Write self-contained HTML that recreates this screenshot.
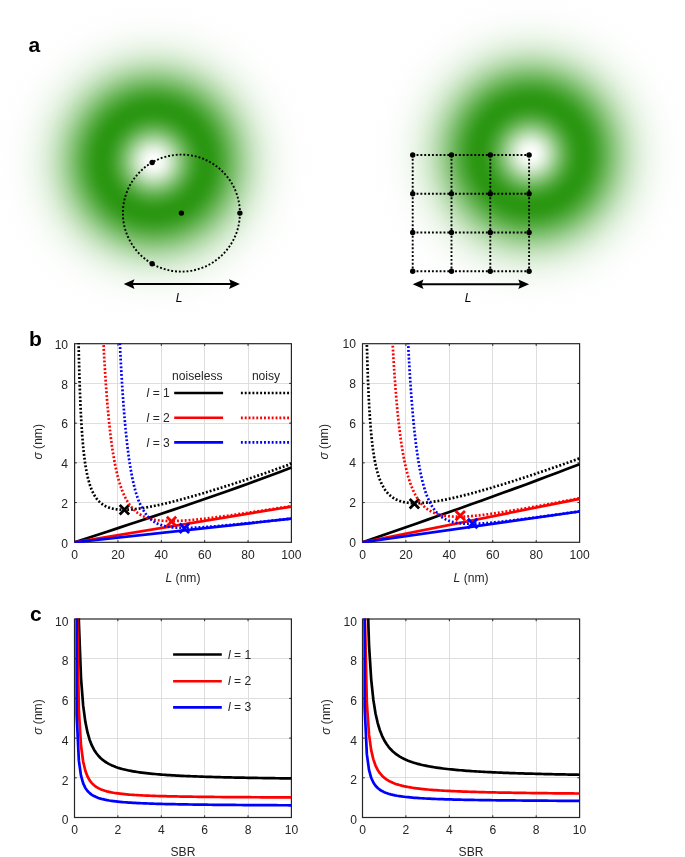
<!DOCTYPE html>
<html lang="en"><head><meta charset="utf-8"><title>Figure</title>
<style>html,body{margin:0;padding:0;background:#fff}svg{display:block}</style>
</head><body>
<svg width="685" height="857" viewBox="0 0 685 857" font-family='"Liberation Sans", Arial, Helvetica, sans-serif' font-size="12.1" fill="#000">
<defs><radialGradient id="dn" gradientUnits="userSpaceOnUse" cx="0" cy="0" r="180.0"><stop offset="0.0000" stop-color="rgb(42,150,17)" stop-opacity="0.000"/><stop offset="0.0139" stop-color="rgb(42,150,17)" stop-opacity="0.006"/><stop offset="0.0278" stop-color="rgb(42,150,17)" stop-opacity="0.025"/><stop offset="0.0417" stop-color="rgb(42,150,17)" stop-opacity="0.055"/><stop offset="0.0556" stop-color="rgb(42,150,17)" stop-opacity="0.096"/><stop offset="0.0694" stop-color="rgb(42,150,17)" stop-opacity="0.146"/><stop offset="0.0833" stop-color="rgb(42,150,17)" stop-opacity="0.206"/><stop offset="0.0972" stop-color="rgb(42,150,17)" stop-opacity="0.272"/><stop offset="0.1111" stop-color="rgb(42,150,17)" stop-opacity="0.343"/><stop offset="0.1250" stop-color="rgb(42,150,17)" stop-opacity="0.417"/><stop offset="0.1389" stop-color="rgb(42,150,17)" stop-opacity="0.494"/><stop offset="0.1528" stop-color="rgb(42,150,17)" stop-opacity="0.569"/><stop offset="0.1667" stop-color="rgb(42,150,17)" stop-opacity="0.643"/><stop offset="0.1806" stop-color="rgb(42,150,17)" stop-opacity="0.713"/><stop offset="0.1944" stop-color="rgb(42,150,17)" stop-opacity="0.777"/><stop offset="0.2083" stop-color="rgb(42,150,17)" stop-opacity="0.835"/><stop offset="0.2222" stop-color="rgb(42,150,17)" stop-opacity="0.885"/><stop offset="0.2361" stop-color="rgb(42,150,17)" stop-opacity="0.927"/><stop offset="0.2500" stop-color="rgb(42,150,17)" stop-opacity="0.959"/><stop offset="0.2639" stop-color="rgb(42,150,17)" stop-opacity="0.982"/><stop offset="0.2778" stop-color="rgb(42,150,17)" stop-opacity="0.996"/><stop offset="0.2917" stop-color="rgb(42,150,17)" stop-opacity="1.000"/><stop offset="0.3056" stop-color="rgb(42,150,17)" stop-opacity="0.995"/><stop offset="0.3194" stop-color="rgb(42,150,17)" stop-opacity="0.981"/><stop offset="0.3333" stop-color="rgb(42,150,17)" stop-opacity="0.960"/><stop offset="0.3472" stop-color="rgb(42,150,17)" stop-opacity="0.932"/><stop offset="0.3611" stop-color="rgb(42,150,17)" stop-opacity="0.897"/><stop offset="0.3750" stop-color="rgb(42,150,17)" stop-opacity="0.857"/><stop offset="0.3889" stop-color="rgb(42,150,17)" stop-opacity="0.813"/><stop offset="0.4028" stop-color="rgb(42,150,17)" stop-opacity="0.766"/><stop offset="0.4167" stop-color="rgb(42,150,17)" stop-opacity="0.716"/><stop offset="0.4306" stop-color="rgb(42,150,17)" stop-opacity="0.666"/><stop offset="0.4444" stop-color="rgb(42,150,17)" stop-opacity="0.614"/><stop offset="0.4583" stop-color="rgb(42,150,17)" stop-opacity="0.563"/><stop offset="0.4722" stop-color="rgb(42,150,17)" stop-opacity="0.513"/><stop offset="0.4861" stop-color="rgb(42,150,17)" stop-opacity="0.465"/><stop offset="0.5000" stop-color="rgb(42,150,17)" stop-opacity="0.418"/><stop offset="0.5139" stop-color="rgb(42,150,17)" stop-opacity="0.374"/><stop offset="0.5278" stop-color="rgb(42,150,17)" stop-opacity="0.332"/><stop offset="0.5417" stop-color="rgb(42,150,17)" stop-opacity="0.294"/><stop offset="0.5556" stop-color="rgb(42,150,17)" stop-opacity="0.258"/><stop offset="0.5694" stop-color="rgb(42,150,17)" stop-opacity="0.225"/><stop offset="0.5833" stop-color="rgb(42,150,17)" stop-opacity="0.196"/><stop offset="0.5972" stop-color="rgb(42,150,17)" stop-opacity="0.169"/><stop offset="0.6111" stop-color="rgb(42,150,17)" stop-opacity="0.145"/><stop offset="0.6250" stop-color="rgb(42,150,17)" stop-opacity="0.124"/><stop offset="0.6389" stop-color="rgb(42,150,17)" stop-opacity="0.105"/><stop offset="0.6528" stop-color="rgb(42,150,17)" stop-opacity="0.089"/><stop offset="0.6667" stop-color="rgb(42,150,17)" stop-opacity="0.075"/><stop offset="0.6806" stop-color="rgb(42,150,17)" stop-opacity="0.062"/><stop offset="0.6944" stop-color="rgb(42,150,17)" stop-opacity="0.052"/><stop offset="0.7083" stop-color="rgb(42,150,17)" stop-opacity="0.043"/><stop offset="0.7222" stop-color="rgb(42,150,17)" stop-opacity="0.035"/><stop offset="0.7361" stop-color="rgb(42,150,17)" stop-opacity="0.029"/><stop offset="0.7500" stop-color="rgb(42,150,17)" stop-opacity="0.023"/><stop offset="0.7639" stop-color="rgb(42,150,17)" stop-opacity="0.019"/><stop offset="0.7778" stop-color="rgb(42,150,17)" stop-opacity="0.015"/><stop offset="0.7917" stop-color="rgb(42,150,17)" stop-opacity="0.012"/><stop offset="0.8056" stop-color="rgb(42,150,17)" stop-opacity="0.010"/><stop offset="0.8194" stop-color="rgb(42,150,17)" stop-opacity="0.008"/><stop offset="0.8333" stop-color="rgb(42,150,17)" stop-opacity="0.006"/><stop offset="0.8472" stop-color="rgb(42,150,17)" stop-opacity="0.005"/><stop offset="0.8611" stop-color="rgb(42,150,17)" stop-opacity="0.004"/><stop offset="0.8750" stop-color="rgb(42,150,17)" stop-opacity="0.003"/><stop offset="0.8889" stop-color="rgb(42,150,17)" stop-opacity="0.002"/><stop offset="0.9028" stop-color="rgb(42,150,17)" stop-opacity="0.002"/><stop offset="0.9167" stop-color="rgb(42,150,17)" stop-opacity="0.001"/><stop offset="0.9306" stop-color="rgb(42,150,17)" stop-opacity="0.001"/><stop offset="0.9444" stop-color="rgb(42,150,17)" stop-opacity="0.001"/><stop offset="0.9583" stop-color="rgb(42,150,17)" stop-opacity="0.001"/><stop offset="0.9722" stop-color="rgb(42,150,17)" stop-opacity="0.000"/><stop offset="0.9861" stop-color="rgb(42,150,17)" stop-opacity="0.000"/><stop offset="1.0000" stop-color="rgb(42,150,17)" stop-opacity="0.000"/></radialGradient></defs>
<rect width="685" height="857" fill="#fff"/>
<circle cx="0" cy="0" r="180.0" fill="url(#dn)" transform="translate(153.9,161.3)"/>
<circle cx="0" cy="0" r="180.0" fill="url(#dn)" transform="translate(530.6,154.0)"/>
<circle cx="181.4" cy="213.1" r="58.5" stroke="#000" stroke-width="1.9" stroke-dasharray="1.9 1.95" fill="none"/>
<circle cx="239.90" cy="213.10" r="2.7"/>
<circle cx="152.15" cy="162.44" r="2.7"/>
<circle cx="152.15" cy="263.76" r="2.7"/>
<circle cx="181.40" cy="213.10" r="2.7"/>
<line x1="412.7" y1="154.95" x2="412.7" y2="271.2" stroke="#000" stroke-width="1.9" stroke-dasharray="1.9 1.95" fill="none"/>
<line x1="451.5" y1="154.95" x2="451.5" y2="271.2" stroke="#000" stroke-width="1.9" stroke-dasharray="1.9 1.95" fill="none"/>
<line x1="490.3" y1="154.95" x2="490.3" y2="271.2" stroke="#000" stroke-width="1.9" stroke-dasharray="1.9 1.95" fill="none"/>
<line x1="529.1" y1="154.95" x2="529.1" y2="271.2" stroke="#000" stroke-width="1.9" stroke-dasharray="1.9 1.95" fill="none"/>
<line x1="412.7" y1="154.95" x2="529.1" y2="154.95" stroke="#000" stroke-width="1.9" stroke-dasharray="1.9 1.95" fill="none"/>
<line x1="412.7" y1="193.75" x2="529.1" y2="193.75" stroke="#000" stroke-width="1.9" stroke-dasharray="1.9 1.95" fill="none"/>
<line x1="412.7" y1="232.5" x2="529.1" y2="232.5" stroke="#000" stroke-width="1.9" stroke-dasharray="1.9 1.95" fill="none"/>
<line x1="412.7" y1="271.2" x2="529.1" y2="271.2" stroke="#000" stroke-width="1.9" stroke-dasharray="1.9 1.95" fill="none"/>
<circle cx="412.7" cy="154.95" r="2.7"/>
<circle cx="412.7" cy="193.75" r="2.7"/>
<circle cx="412.7" cy="232.5" r="2.7"/>
<circle cx="412.7" cy="271.2" r="2.7"/>
<circle cx="451.5" cy="154.95" r="2.7"/>
<circle cx="451.5" cy="193.75" r="2.7"/>
<circle cx="451.5" cy="232.5" r="2.7"/>
<circle cx="451.5" cy="271.2" r="2.7"/>
<circle cx="490.3" cy="154.95" r="2.7"/>
<circle cx="490.3" cy="193.75" r="2.7"/>
<circle cx="490.3" cy="232.5" r="2.7"/>
<circle cx="490.3" cy="271.2" r="2.7"/>
<circle cx="529.1" cy="154.95" r="2.7"/>
<circle cx="529.1" cy="193.75" r="2.7"/>
<circle cx="529.1" cy="232.5" r="2.7"/>
<circle cx="529.1" cy="271.2" r="2.7"/>
<line x1="132.20" y1="284.1" x2="231.40" y2="284.1" stroke="#000" stroke-width="2.0"/>
<path d="M123.70,284.1 L134.50,279.3 L132.70,284.1 L134.50,288.90000000000003 Z"/>
<path d="M239.90,284.1 L229.10,279.3 L230.90,284.1 L229.10,288.90000000000003 Z"/>
<line x1="421.20" y1="284.2" x2="520.60" y2="284.2" stroke="#000" stroke-width="2.0"/>
<path d="M412.70,284.2 L423.50,279.4 L421.70,284.2 L423.50,289.0 Z"/>
<path d="M529.10,284.2 L518.30,279.4 L520.10,284.2 L518.30,289.0 Z"/>
<text x="179.0" y="301.6" text-anchor="middle" font-style="italic">L</text>
<text x="468.2" y="301.8" text-anchor="middle" font-style="italic">L</text>
<text x="28.5" y="52" font-size="21" font-weight="bold">a</text>
<text x="28.9" y="346.2" font-size="21" font-weight="bold">b</text>
<text x="29.9" y="621.2" font-size="21" font-weight="bold">c</text>
<clipPath id="cp1"><rect x="74.0" y="343.09999999999997" width="217.99999999999997" height="199.79999999999995"/></clipPath>
<line x1="117.5" y1="343.7" x2="117.5" y2="542.3" stroke="#dedede" stroke-width="1"/>
<line x1="161.5" y1="343.7" x2="161.5" y2="542.3" stroke="#dedede" stroke-width="1"/>
<line x1="204.5" y1="343.7" x2="204.5" y2="542.3" stroke="#dedede" stroke-width="1"/>
<line x1="248.5" y1="343.7" x2="248.5" y2="542.3" stroke="#dedede" stroke-width="1"/>
<line x1="74.6" y1="502.5" x2="291.4" y2="502.5" stroke="#dedede" stroke-width="1"/>
<line x1="74.6" y1="462.5" x2="291.4" y2="462.5" stroke="#dedede" stroke-width="1"/>
<line x1="74.6" y1="423.5" x2="291.4" y2="423.5" stroke="#dedede" stroke-width="1"/>
<line x1="74.6" y1="383.5" x2="291.4" y2="383.5" stroke="#dedede" stroke-width="1"/>
<rect x="74.6" y="343.7" width="216.80" height="198.60" fill="none" stroke="#262626" stroke-width="1.2"/>
<line x1="117.96" y1="542.3" x2="117.96" y2="540.0999999999999" stroke="#262626" stroke-width="1"/>
<line x1="117.96" y1="343.7" x2="117.96" y2="345.9" stroke="#262626" stroke-width="1"/>
<line x1="161.32" y1="542.3" x2="161.32" y2="540.0999999999999" stroke="#262626" stroke-width="1"/>
<line x1="161.32" y1="343.7" x2="161.32" y2="345.9" stroke="#262626" stroke-width="1"/>
<line x1="204.68" y1="542.3" x2="204.68" y2="540.0999999999999" stroke="#262626" stroke-width="1"/>
<line x1="204.68" y1="343.7" x2="204.68" y2="345.9" stroke="#262626" stroke-width="1"/>
<line x1="248.04" y1="542.3" x2="248.04" y2="540.0999999999999" stroke="#262626" stroke-width="1"/>
<line x1="248.04" y1="343.7" x2="248.04" y2="345.9" stroke="#262626" stroke-width="1"/>
<line x1="74.6" y1="502.58" x2="76.8" y2="502.58" stroke="#262626" stroke-width="1"/>
<line x1="291.4" y1="502.58" x2="289.2" y2="502.58" stroke="#262626" stroke-width="1"/>
<line x1="74.6" y1="462.86" x2="76.8" y2="462.86" stroke="#262626" stroke-width="1"/>
<line x1="291.4" y1="462.86" x2="289.2" y2="462.86" stroke="#262626" stroke-width="1"/>
<line x1="74.6" y1="423.14" x2="76.8" y2="423.14" stroke="#262626" stroke-width="1"/>
<line x1="291.4" y1="423.14" x2="289.2" y2="423.14" stroke="#262626" stroke-width="1"/>
<line x1="74.6" y1="383.42" x2="76.8" y2="383.42" stroke="#262626" stroke-width="1"/>
<line x1="291.4" y1="383.42" x2="289.2" y2="383.42" stroke="#262626" stroke-width="1"/>
<g clip-path="url(#cp1)">
<path d="M74.60,542.30 L85.44,538.76 L96.28,535.23 L107.12,531.68 L117.96,528.13 L128.80,524.56 L139.64,520.99 L150.48,517.39 L161.32,513.77 L172.16,510.13 L183.00,506.46 L193.84,502.77 L204.68,499.04 L215.52,495.27 L226.36,491.46 L237.20,487.61 L248.04,483.71 L258.88,479.76 L269.72,475.75 L280.56,471.69 L291.40,467.56" fill="none" stroke="#000" stroke-width="2.7" stroke-linejoin="round" />
<path d="M77.68,284.70 L77.94,305.10 L78.21,322.45 L78.48,337.40 L78.75,350.40 L79.02,361.82 L79.29,371.92 L79.56,380.92 L79.83,388.98 L80.10,396.26 L80.37,402.84 L80.64,408.84 L80.91,414.31 L81.18,419.34 L81.45,423.96 L81.72,428.23 L81.99,432.18 L82.26,435.85 L82.52,439.26 L82.79,442.45 L83.06,445.42 L83.33,448.21 L83.60,450.83 L83.87,453.29 L84.14,455.61 L84.41,457.80 L84.68,459.86 L84.95,461.81 L85.22,463.67 L85.49,465.42 L85.76,467.09 L86.03,468.67 L86.30,470.18 L86.57,471.61 L86.84,472.98 L87.10,474.29 L87.37,475.54 L87.64,476.73 L87.91,477.87 L88.18,478.97 L88.45,480.01 L88.72,481.02 L88.99,481.98 L89.26,482.91 L89.53,483.79 L89.80,484.65 L90.07,485.47 L90.34,486.26 L90.61,487.02 L90.88,487.75 L91.15,488.46 L91.42,489.14 L91.68,489.80 L91.95,490.43 L92.22,491.04 L92.49,491.63 L92.76,492.21 L93.03,492.76 L93.30,493.29 L93.57,493.81 L93.84,494.31 L94.11,494.79 L94.38,495.26 L94.65,495.71 L94.92,496.15 L95.19,496.57 L95.46,496.98 L95.73,497.38 L96.00,497.77 L96.26,498.14 L96.53,498.50 L96.80,498.86 L97.07,499.20 L97.34,499.53 L97.61,499.85 L97.88,500.17 L98.15,500.47 L98.42,500.76 L98.69,501.05 L98.96,501.33 L99.23,501.60 L99.50,501.86 L99.77,502.11 L100.04,502.36 L100.31,502.60 L100.58,502.84 L100.84,503.06 L101.11,503.28 L101.38,503.50 L101.65,503.71 L101.92,503.91 L102.19,504.11 L102.46,504.30 L102.73,504.48 L103.00,504.66 L103.27,504.84 L103.54,505.01 L103.81,505.18 L104.08,505.34 L104.35,505.50 L104.62,505.65 L104.89,505.80 L105.16,505.94 L105.42,506.08 L105.69,506.22 L105.96,506.35 L106.23,506.48 L106.50,506.61 L106.77,506.73 L107.04,506.85 L107.31,506.96 L107.58,507.07 L107.85,507.18 L108.12,507.28 L108.39,507.39 L108.66,507.49 L108.93,507.58 L109.20,507.67 L109.47,507.77 L109.74,507.85 L110.00,507.94 L110.27,508.02 L110.54,508.10 L110.81,508.18 L111.08,508.25 L111.35,508.32 L111.62,508.39 L111.89,508.46 L112.16,508.53 L112.43,508.59 L112.70,508.65 L112.97,508.71 L113.24,508.77 L113.51,508.82 L113.78,508.88 L114.05,508.93 L114.32,508.98 L114.58,509.03 L114.85,509.07 L115.12,509.12 L115.39,509.16 L115.66,509.20 L115.93,509.24 L116.20,509.27 L116.47,509.31 L116.74,509.34 L117.01,509.38 L117.28,509.41 L117.55,509.44 L117.82,509.46 L118.09,509.49 L118.36,509.51 L118.63,509.54 L118.90,509.56 L119.16,509.58 L119.43,509.60 L119.70,509.62 L119.97,509.64 L120.24,509.65 L120.51,509.67 L120.78,509.68 L121.05,509.69 L121.32,509.70 L121.59,509.71 L121.86,509.72 L122.13,509.73 L122.40,509.74 L122.67,509.74 L122.94,509.75 L123.21,509.75 L123.48,509.75 L123.74,509.75 L124.01,509.75 L124.28,509.75 L124.55,509.75 L124.82,509.75 L125.09,509.75 L125.36,509.74 L125.63,509.74 L125.90,509.73 L126.17,509.72 L126.44,509.72 L126.71,509.71 L126.98,509.70 L127.25,509.69 L127.52,509.68 L127.79,509.66 L128.06,509.65 L128.32,509.64 L128.59,509.62 L128.86,509.61 L129.13,509.59 L129.40,509.58 L129.67,509.56 L129.94,509.54 L130.21,509.52 L130.48,509.50 L130.75,509.48 L131.02,509.46 L131.29,509.44 L131.56,509.42 L131.83,509.40 L132.10,509.38 L132.37,509.35 L132.64,509.33 L132.90,509.30 L133.17,509.28 L133.44,509.25 L133.71,509.22 L133.98,509.20 L134.25,509.17 L134.52,509.14 L134.79,509.11 L135.06,509.08 L135.33,509.05 L135.60,509.02 L135.87,508.99 L136.14,508.96 L136.41,508.93 L136.68,508.89 L136.95,508.86 L137.22,508.83 L137.48,508.79 L137.75,508.76 L138.02,508.72 L138.29,508.69 L138.56,508.65 L138.83,508.62 L139.10,508.58 L139.37,508.54 L139.64,508.50 L142.21,508.12 L144.78,507.71 L147.36,507.26 L149.93,506.78 L152.50,506.28 L155.07,505.75 L157.65,505.20 L160.22,504.64 L162.79,504.05 L165.36,503.45 L167.93,502.83 L170.51,502.19 L173.08,501.55 L175.65,500.89 L178.22,500.22 L180.80,499.53 L183.37,498.84 L185.94,498.14 L188.51,497.42 L191.08,496.70 L193.66,495.97 L196.23,495.24 L198.80,494.49 L201.37,493.74 L203.95,492.97 L206.52,492.21 L209.09,491.43 L211.66,490.65 L214.23,489.86 L216.81,489.07 L219.38,488.27 L221.95,487.46 L224.52,486.65 L227.09,485.84 L229.67,485.01 L232.24,484.19 L234.81,483.35 L237.38,482.51 L239.96,481.67 L242.53,480.82 L245.10,479.97 L247.67,479.11 L250.24,478.25 L252.82,477.38 L255.39,476.50 L257.96,475.63 L260.53,474.74 L263.11,473.86 L265.68,472.96 L268.25,472.07 L270.82,471.16 L273.39,470.26 L275.97,469.34 L278.54,468.43 L281.11,467.50 L283.68,466.58 L286.26,465.65 L288.83,464.71 L291.40,463.77" fill="none" stroke="#000" stroke-width="2.7" stroke-linejoin="round" stroke-dasharray="1.9 1.95"/>
<path d="M119.70,505.00 L129.10,514.40 M119.70,514.40 L129.10,505.00" stroke="#000" stroke-width="2.8" fill="none"/>
<path d="M74.60,542.30 L291.40,506.55" fill="none" stroke="#ff0000" stroke-width="2.7" stroke-linejoin="round" />
<path d="M101.11,287.40 L101.38,294.79 L101.65,301.89 L101.92,308.70 L102.19,315.26 L102.46,321.56 L102.73,327.62 L103.00,333.46 L103.27,339.08 L103.54,344.49 L103.81,349.70 L104.08,354.72 L104.35,359.56 L104.62,364.23 L104.89,368.73 L105.16,373.07 L105.42,377.27 L105.69,381.32 L105.96,385.23 L106.23,389.00 L106.50,392.65 L106.77,396.18 L107.04,399.59 L107.31,402.89 L107.58,406.08 L107.85,409.16 L108.12,412.15 L108.39,415.04 L108.66,417.84 L108.93,420.56 L109.20,423.18 L109.47,425.73 L109.74,428.20 L110.00,430.59 L110.27,432.91 L110.54,435.16 L110.81,437.34 L111.08,439.46 L111.35,441.51 L111.62,443.51 L111.89,445.44 L112.16,447.32 L112.43,449.15 L112.70,450.92 L112.97,452.64 L113.24,454.32 L113.51,455.95 L113.78,457.53 L114.05,459.07 L114.32,460.56 L114.58,462.02 L114.85,463.43 L115.12,464.81 L115.39,466.15 L115.66,467.45 L115.93,468.72 L116.20,469.95 L116.47,471.16 L116.74,472.33 L117.01,473.47 L117.28,474.58 L117.55,475.66 L117.82,476.72 L118.09,477.74 L118.36,478.75 L118.63,479.72 L118.90,480.67 L119.16,481.60 L119.43,482.51 L119.70,483.39 L119.97,484.25 L120.24,485.09 L120.51,485.91 L120.78,486.71 L121.05,487.49 L121.32,488.25 L121.59,488.99 L121.86,489.72 L122.13,490.42 L122.40,491.11 L122.67,491.79 L122.94,492.45 L123.21,493.09 L123.48,493.72 L123.74,494.33 L124.01,494.93 L124.28,495.52 L124.55,496.09 L124.82,496.65 L125.09,497.20 L125.36,497.73 L125.63,498.25 L125.90,498.76 L126.17,499.26 L126.44,499.75 L126.71,500.22 L126.98,500.69 L127.25,501.15 L127.52,501.59 L127.79,502.03 L128.06,502.45 L128.32,502.87 L128.59,503.28 L128.86,503.68 L129.13,504.07 L129.40,504.45 L129.67,504.82 L129.94,505.19 L130.21,505.54 L130.48,505.89 L130.75,506.24 L131.02,506.57 L131.29,506.90 L131.56,507.22 L131.83,507.53 L132.10,507.84 L132.37,508.14 L132.64,508.44 L132.90,508.73 L133.17,509.01 L133.44,509.28 L133.71,509.56 L133.98,509.82 L134.25,510.08 L134.52,510.33 L134.79,510.58 L135.06,510.83 L135.33,511.06 L135.60,511.30 L135.87,511.53 L136.14,511.75 L136.41,511.97 L136.68,512.18 L136.95,512.40 L137.22,512.60 L137.48,512.80 L137.75,513.00 L138.02,513.19 L138.29,513.38 L138.56,513.57 L138.83,513.75 L139.10,513.93 L139.37,514.10 L139.64,514.27 L142.21,515.74 L144.78,516.94 L147.36,517.91 L149.93,518.71 L152.50,519.35 L155.07,519.86 L157.65,520.25 L160.22,520.55 L162.79,520.77 L165.36,520.92 L167.93,521.01 L170.51,521.05 L173.08,521.03 L175.65,520.98 L178.22,520.89 L180.80,520.77 L183.37,520.63 L185.94,520.45 L188.51,520.26 L191.08,520.04 L193.66,519.81 L196.23,519.56 L198.80,519.30 L201.37,519.03 L203.95,518.74 L206.52,518.44 L209.09,518.14 L211.66,517.82 L214.23,517.50 L216.81,517.17 L219.38,516.83 L221.95,516.49 L224.52,516.14 L227.09,515.79 L229.67,515.43 L232.24,515.07 L234.81,514.70 L237.38,514.33 L239.96,513.96 L242.53,513.58 L245.10,513.21 L247.67,512.82 L250.24,512.44 L252.82,512.05 L255.39,511.67 L257.96,511.28 L260.53,510.88 L263.11,510.49 L265.68,510.10 L268.25,509.70 L270.82,509.30 L273.39,508.90 L275.97,508.50 L278.54,508.10 L281.11,507.69 L283.68,507.29 L286.26,506.89 L288.83,506.48 L291.40,506.07" fill="none" stroke="#ff0000" stroke-width="2.7" stroke-linejoin="round" stroke-dasharray="1.9 1.95"/>
<path d="M166.80,516.80 L176.20,526.20 M166.80,526.20 L176.20,516.80" stroke="#ff0000" stroke-width="2.8" fill="none"/>
<path d="M74.60,542.30 L291.40,518.67" fill="none" stroke="#0000ff" stroke-width="2.7" stroke-linejoin="round" />
<path d="M117.55,285.57 L117.82,293.24 L118.09,300.64 L118.36,307.76 L118.63,314.63 L118.90,321.24 L119.16,327.63 L119.43,333.78 L119.70,339.72 L119.97,345.45 L120.24,350.97 L120.51,356.31 L120.78,361.46 L121.05,366.44 L121.32,371.24 L121.59,375.88 L121.86,380.36 L122.13,384.70 L122.40,388.88 L122.67,392.93 L122.94,396.85 L123.21,400.63 L123.48,404.29 L123.74,407.84 L124.01,411.26 L124.28,414.58 L124.55,417.79 L124.82,420.90 L125.09,423.91 L125.36,426.82 L125.63,429.64 L125.90,432.37 L126.17,435.02 L126.44,437.59 L126.71,440.08 L126.98,442.49 L127.25,444.82 L127.52,447.09 L127.79,449.29 L128.06,451.42 L128.32,453.48 L128.59,455.49 L128.86,457.43 L129.13,459.32 L129.40,461.15 L129.67,462.93 L129.94,464.66 L130.21,466.34 L130.48,467.96 L130.75,469.54 L131.02,471.08 L131.29,472.57 L131.56,474.02 L131.83,475.43 L132.10,476.79 L132.37,478.12 L132.64,479.42 L132.90,480.67 L133.17,481.89 L133.44,483.08 L133.71,484.23 L133.98,485.36 L134.25,486.45 L134.52,487.51 L134.79,488.54 L135.06,489.55 L135.33,490.53 L135.60,491.48 L135.87,492.41 L136.14,493.31 L136.41,494.19 L136.68,495.04 L136.95,495.87 L137.22,496.68 L137.48,497.47 L137.75,498.24 L138.02,498.99 L138.29,499.71 L138.56,500.42 L138.83,501.12 L139.10,501.79 L139.37,502.45 L139.64,503.08 L142.21,508.43 L144.78,512.63 L147.36,515.95 L149.93,518.59 L152.50,520.69 L155.07,522.36 L157.65,523.70 L160.22,524.76 L162.79,525.60 L165.36,526.26 L167.93,526.78 L170.51,527.17 L173.08,527.47 L175.65,527.68 L178.22,527.82 L180.80,527.91 L183.37,527.94 L185.94,527.93 L188.51,527.89 L191.08,527.82 L193.66,527.72 L196.23,527.60 L198.80,527.47 L201.37,527.31 L203.95,527.14 L206.52,526.96 L209.09,526.77 L211.66,526.56 L214.23,526.35 L216.81,526.14 L219.38,525.91 L221.95,525.68 L224.52,525.45 L227.09,525.21 L229.67,524.97 L232.24,524.72 L234.81,524.47 L237.38,524.22 L239.96,523.96 L242.53,523.70 L245.10,523.45 L247.67,523.18 L250.24,522.92 L252.82,522.66 L255.39,522.39 L257.96,522.12 L260.53,521.86 L263.11,521.59 L265.68,521.32 L268.25,521.05 L270.82,520.78 L273.39,520.50 L275.97,520.23 L278.54,519.96 L281.11,519.68 L283.68,519.41 L286.26,519.14 L288.83,518.86 L291.40,518.59" fill="none" stroke="#0000ff" stroke-width="2.7" stroke-linejoin="round" stroke-dasharray="1.9 1.95"/>
<path d="M179.70,523.50 L189.10,532.90 M179.70,532.90 L189.10,523.50" stroke="#0000ff" stroke-width="2.8" fill="none"/>
</g>
<text x="74.60" y="558.8" font-size="12.1" text-anchor="middle" fill="#262626">0</text>
<text x="117.96" y="558.8" font-size="12.1" text-anchor="middle" fill="#262626">20</text>
<text x="161.32" y="558.8" font-size="12.1" text-anchor="middle" fill="#262626">40</text>
<text x="204.68" y="558.8" font-size="12.1" text-anchor="middle" fill="#262626">60</text>
<text x="248.04" y="558.8" font-size="12.1" text-anchor="middle" fill="#262626">80</text>
<text x="291.40" y="558.8" font-size="12.1" text-anchor="middle" fill="#262626">100</text>
<text x="68.10" y="547.50" font-size="12.1" text-anchor="end" fill="#262626">0</text>
<text x="68.10" y="507.78" font-size="12.1" text-anchor="end" fill="#262626">2</text>
<text x="68.10" y="468.06" font-size="12.1" text-anchor="end" fill="#262626">4</text>
<text x="68.10" y="428.34" font-size="12.1" text-anchor="end" fill="#262626">6</text>
<text x="68.10" y="388.62" font-size="12.1" text-anchor="end" fill="#262626">8</text>
<text x="68.10" y="348.90" font-size="12.1" text-anchor="end" fill="#262626">10</text>
<text x="183.00" y="581.6" text-anchor="middle" fill="#262626"><tspan font-style="italic">L</tspan> (nm)</text>
<text transform="translate(42.3,441.80) rotate(-90)" text-anchor="middle" fill="#262626"><tspan font-style="italic">σ</tspan> (nm)</text>
<line x1="174.2" y1="393.0" x2="223.1" y2="393.0" stroke="#000" stroke-width="2.6"/>
<line x1="240.9" y1="393.0" x2="291.2" y2="393.0" stroke="#000" stroke-width="2.7" stroke-dasharray="1.9 1.95"/>
<text x="146.6" y="397.4" fill="#262626"><tspan font-style="italic">l</tspan> = 1</text>
<line x1="174.2" y1="417.8" x2="223.1" y2="417.8" stroke="#ff0000" stroke-width="2.6"/>
<line x1="240.9" y1="417.8" x2="291.2" y2="417.8" stroke="#ff0000" stroke-width="2.7" stroke-dasharray="1.9 1.95"/>
<text x="146.6" y="422.2" fill="#262626"><tspan font-style="italic">l</tspan> = 2</text>
<line x1="174.2" y1="442.4" x2="223.1" y2="442.4" stroke="#0000ff" stroke-width="2.6"/>
<line x1="240.9" y1="442.4" x2="291.2" y2="442.4" stroke="#0000ff" stroke-width="2.7" stroke-dasharray="1.9 1.95"/>
<text x="146.6" y="446.8" fill="#262626"><tspan font-style="italic">l</tspan> = 3</text>
<text x="197.3" y="380.4" text-anchor="middle" fill="#262626">noiseless</text>
<text x="266" y="380.4" text-anchor="middle" fill="#262626">noisy</text>
<clipPath id="cp2"><rect x="361.9" y="343.09999999999997" width="218.3" height="199.79999999999995"/></clipPath>
<line x1="405.5" y1="343.7" x2="405.5" y2="542.3" stroke="#dedede" stroke-width="1"/>
<line x1="449.5" y1="343.7" x2="449.5" y2="542.3" stroke="#dedede" stroke-width="1"/>
<line x1="492.5" y1="343.7" x2="492.5" y2="542.3" stroke="#dedede" stroke-width="1"/>
<line x1="536.5" y1="343.7" x2="536.5" y2="542.3" stroke="#dedede" stroke-width="1"/>
<line x1="362.5" y1="502.5" x2="579.6" y2="502.5" stroke="#dedede" stroke-width="1"/>
<line x1="362.5" y1="462.5" x2="579.6" y2="462.5" stroke="#dedede" stroke-width="1"/>
<line x1="362.5" y1="423.5" x2="579.6" y2="423.5" stroke="#dedede" stroke-width="1"/>
<line x1="362.5" y1="383.5" x2="579.6" y2="383.5" stroke="#dedede" stroke-width="1"/>
<rect x="362.5" y="343.7" width="217.10" height="198.60" fill="none" stroke="#262626" stroke-width="1.2"/>
<line x1="405.92" y1="542.3" x2="405.92" y2="540.0999999999999" stroke="#262626" stroke-width="1"/>
<line x1="405.92" y1="343.7" x2="405.92" y2="345.9" stroke="#262626" stroke-width="1"/>
<line x1="449.34" y1="542.3" x2="449.34" y2="540.0999999999999" stroke="#262626" stroke-width="1"/>
<line x1="449.34" y1="343.7" x2="449.34" y2="345.9" stroke="#262626" stroke-width="1"/>
<line x1="492.76" y1="542.3" x2="492.76" y2="540.0999999999999" stroke="#262626" stroke-width="1"/>
<line x1="492.76" y1="343.7" x2="492.76" y2="345.9" stroke="#262626" stroke-width="1"/>
<line x1="536.18" y1="542.3" x2="536.18" y2="540.0999999999999" stroke="#262626" stroke-width="1"/>
<line x1="536.18" y1="343.7" x2="536.18" y2="345.9" stroke="#262626" stroke-width="1"/>
<line x1="362.5" y1="502.58" x2="364.7" y2="502.58" stroke="#262626" stroke-width="1"/>
<line x1="579.6" y1="502.58" x2="577.4" y2="502.58" stroke="#262626" stroke-width="1"/>
<line x1="362.5" y1="462.86" x2="364.7" y2="462.86" stroke="#262626" stroke-width="1"/>
<line x1="579.6" y1="462.86" x2="577.4" y2="462.86" stroke="#262626" stroke-width="1"/>
<line x1="362.5" y1="423.14" x2="364.7" y2="423.14" stroke="#262626" stroke-width="1"/>
<line x1="579.6" y1="423.14" x2="577.4" y2="423.14" stroke="#262626" stroke-width="1"/>
<line x1="362.5" y1="383.42" x2="364.7" y2="383.42" stroke="#262626" stroke-width="1"/>
<line x1="579.6" y1="383.42" x2="577.4" y2="383.42" stroke="#262626" stroke-width="1"/>
<g clip-path="url(#cp2)">
<path d="M362.50,542.30 L373.36,538.54 L384.21,534.77 L395.06,531.00 L405.92,527.22 L416.77,523.44 L427.63,519.64 L438.49,515.84 L449.34,512.01 L460.19,508.17 L471.05,504.31 L481.91,500.43 L492.76,496.53 L503.62,492.60 L514.47,488.64 L525.33,484.65 L536.18,480.62 L547.04,476.56 L557.89,472.47 L568.75,468.33 L579.60,464.14" fill="none" stroke="#000" stroke-width="2.7" stroke-linejoin="round" />
<path d="M365.85,291.05 L366.12,307.86 L366.39,322.42 L366.66,335.17 L366.93,346.43 L367.20,356.44 L367.47,365.41 L367.74,373.48 L368.01,380.79 L368.28,387.45 L368.55,393.52 L368.82,399.10 L369.09,404.23 L369.36,408.97 L369.63,413.36 L369.90,417.44 L370.17,421.24 L370.44,424.79 L370.71,428.11 L370.98,431.22 L371.24,434.14 L371.51,436.90 L371.78,439.49 L372.05,441.94 L372.32,444.26 L372.59,446.45 L372.86,448.53 L373.13,450.50 L373.40,452.38 L373.67,454.17 L373.94,455.87 L374.21,457.49 L374.48,459.04 L374.75,460.53 L375.02,461.94 L375.29,463.30 L375.56,464.60 L375.83,465.84 L376.10,467.04 L376.37,468.18 L376.64,469.28 L376.91,470.34 L377.18,471.36 L377.45,472.34 L377.72,473.29 L377.99,474.20 L378.26,475.07 L378.53,475.92 L378.80,476.73 L379.07,477.52 L379.34,478.28 L379.61,479.02 L379.88,479.73 L380.15,480.42 L380.42,481.08 L380.69,481.73 L380.96,482.35 L381.23,482.95 L381.50,483.54 L381.77,484.10 L382.04,484.65 L382.31,485.19 L382.58,485.70 L382.85,486.20 L383.12,486.69 L383.39,487.16 L383.65,487.62 L383.92,488.07 L384.19,488.50 L384.46,488.92 L384.73,489.33 L385.00,489.72 L385.27,490.11 L385.54,490.48 L385.81,490.85 L386.08,491.20 L386.35,491.55 L386.62,491.88 L386.89,492.21 L387.16,492.53 L387.43,492.84 L387.70,493.14 L387.97,493.43 L388.24,493.72 L388.51,493.99 L388.78,494.26 L389.05,494.53 L389.32,494.78 L389.59,495.03 L389.86,495.28 L390.13,495.52 L390.40,495.75 L390.67,495.97 L390.94,496.19 L391.21,496.41 L391.48,496.61 L391.75,496.82 L392.02,497.02 L392.29,497.21 L392.56,497.40 L392.83,497.58 L393.10,497.76 L393.37,497.93 L393.64,498.10 L393.91,498.27 L394.18,498.43 L394.45,498.59 L394.72,498.74 L394.99,498.89 L395.26,499.03 L395.53,499.17 L395.80,499.31 L396.07,499.45 L396.33,499.58 L396.60,499.71 L396.87,499.83 L397.14,499.95 L397.41,500.07 L397.68,500.18 L397.95,500.30 L398.22,500.40 L398.49,500.51 L398.76,500.61 L399.03,500.71 L399.30,500.81 L399.57,500.91 L399.84,501.00 L400.11,501.09 L400.38,501.18 L400.65,501.26 L400.92,501.34 L401.19,501.42 L401.46,501.50 L401.73,501.58 L402.00,501.65 L402.27,501.72 L402.54,501.79 L402.81,501.86 L403.08,501.92 L403.35,501.99 L403.62,502.05 L403.89,502.11 L404.16,502.16 L404.43,502.22 L404.70,502.27 L404.97,502.32 L405.24,502.37 L405.51,502.42 L405.78,502.47 L406.05,502.51 L406.32,502.56 L406.59,502.60 L406.86,502.64 L407.13,502.68 L407.40,502.71 L407.67,502.75 L407.94,502.78 L408.21,502.81 L408.48,502.85 L408.75,502.88 L409.01,502.90 L409.28,502.93 L409.55,502.96 L409.82,502.98 L410.09,503.00 L410.36,503.03 L410.63,503.05 L410.90,503.07 L411.17,503.08 L411.44,503.10 L411.71,503.12 L411.98,503.13 L412.25,503.15 L412.52,503.16 L412.79,503.17 L413.06,503.18 L413.33,503.19 L413.60,503.20 L413.87,503.20 L414.14,503.21 L414.41,503.22 L414.68,503.22 L414.95,503.22 L415.22,503.23 L415.49,503.23 L415.76,503.23 L416.03,503.23 L416.30,503.22 L416.57,503.22 L416.84,503.22 L417.11,503.22 L417.38,503.21 L417.65,503.20 L417.92,503.20 L418.19,503.19 L418.46,503.18 L418.73,503.17 L419.00,503.16 L419.27,503.15 L419.54,503.14 L419.81,503.13 L420.08,503.12 L420.35,503.10 L420.62,503.09 L420.89,503.07 L421.16,503.06 L421.42,503.04 L421.69,503.03 L421.96,503.01 L422.23,502.99 L422.50,502.97 L422.77,502.95 L423.04,502.93 L423.31,502.91 L423.58,502.89 L423.85,502.87 L424.12,502.84 L424.39,502.82 L424.66,502.80 L424.93,502.77 L425.20,502.75 L425.47,502.72 L425.74,502.69 L426.01,502.67 L426.28,502.64 L426.55,502.61 L426.82,502.58 L427.09,502.55 L427.36,502.52 L427.63,502.49 L430.21,502.18 L432.78,501.83 L435.36,501.44 L437.93,501.01 L440.51,500.55 L443.08,500.07 L445.66,499.56 L448.24,499.02 L450.81,498.47 L453.39,497.89 L455.96,497.30 L458.54,496.68 L461.11,496.06 L463.69,495.41 L466.27,494.76 L468.84,494.09 L471.42,493.40 L473.99,492.71 L476.57,492.00 L479.15,491.29 L481.72,490.56 L484.30,489.83 L486.87,489.09 L489.45,488.34 L492.02,487.58 L494.60,486.81 L497.18,486.03 L499.75,485.25 L502.33,484.46 L504.90,483.67 L507.48,482.87 L510.05,482.06 L512.63,481.24 L515.21,480.42 L517.78,479.60 L520.36,478.77 L522.93,477.93 L525.51,477.09 L528.08,476.24 L530.66,475.39 L533.24,474.54 L535.81,473.68 L538.39,472.81 L540.96,471.94 L543.54,471.06 L546.12,470.18 L548.69,469.30 L551.27,468.41 L553.84,467.52 L556.42,466.62 L558.99,465.72 L561.57,464.81 L564.15,463.90 L566.72,462.99 L569.30,462.07 L571.87,461.15 L574.45,460.22 L577.02,459.29 L579.60,458.36" fill="none" stroke="#000" stroke-width="2.7" stroke-linejoin="round" stroke-dasharray="1.9 1.95"/>
<path d="M409.70,499.10 L419.10,508.50 M409.70,508.50 L419.10,499.10" stroke="#000" stroke-width="2.8" fill="none"/>
<path d="M362.50,542.30 L579.60,498.81" fill="none" stroke="#ff0000" stroke-width="2.7" stroke-linejoin="round" />
<path d="M390.13,288.06 L390.40,295.02 L390.67,301.71 L390.94,308.16 L391.21,314.36 L391.48,320.34 L391.75,326.10 L392.02,331.65 L392.29,337.01 L392.56,342.17 L392.83,347.16 L393.10,351.97 L393.37,356.61 L393.64,361.09 L393.91,365.43 L394.18,369.61 L394.45,373.66 L394.72,377.57 L394.99,381.35 L395.26,385.01 L395.53,388.55 L395.80,391.98 L396.07,395.30 L396.33,398.51 L396.60,401.62 L396.87,404.63 L397.14,407.55 L397.41,410.38 L397.68,413.13 L397.95,415.79 L398.22,418.37 L398.49,420.87 L398.76,423.30 L399.03,425.66 L399.30,427.94 L399.57,430.16 L399.84,432.32 L400.11,434.42 L400.38,436.45 L400.65,438.43 L400.92,440.35 L401.19,442.21 L401.46,444.03 L401.73,445.79 L402.00,447.51 L402.27,449.18 L402.54,450.80 L402.81,452.38 L403.08,453.92 L403.35,455.41 L403.62,456.87 L403.89,458.29 L404.16,459.67 L404.43,461.01 L404.70,462.32 L404.97,463.59 L405.24,464.84 L405.51,466.05 L405.78,467.22 L406.05,468.37 L406.32,469.49 L406.59,470.59 L406.86,471.65 L407.13,472.69 L407.40,473.70 L407.67,474.69 L407.94,475.65 L408.21,476.59 L408.48,477.51 L408.75,478.40 L409.01,479.28 L409.28,480.13 L409.55,480.96 L409.82,481.77 L410.09,482.57 L410.36,483.34 L410.63,484.10 L410.90,484.83 L411.17,485.56 L411.44,486.26 L411.71,486.95 L411.98,487.62 L412.25,488.28 L412.52,488.92 L412.79,489.54 L413.06,490.16 L413.33,490.76 L413.60,491.34 L413.87,491.91 L414.14,492.47 L414.41,493.02 L414.68,493.55 L414.95,494.08 L415.22,494.59 L415.49,495.09 L415.76,495.58 L416.03,496.05 L416.30,496.52 L416.57,496.98 L416.84,497.43 L417.11,497.86 L417.38,498.29 L417.65,498.71 L417.92,499.12 L418.19,499.52 L418.46,499.91 L418.73,500.30 L419.00,500.67 L419.27,501.04 L419.54,501.40 L419.81,501.75 L420.08,502.10 L420.35,502.44 L420.62,502.77 L420.89,503.09 L421.16,503.41 L421.42,503.72 L421.69,504.02 L421.96,504.32 L422.23,504.61 L422.50,504.89 L422.77,505.17 L423.04,505.45 L423.31,505.71 L423.58,505.98 L423.85,506.23 L424.12,506.48 L424.39,506.73 L424.66,506.97 L424.93,507.20 L425.20,507.44 L425.47,507.66 L425.74,507.88 L426.01,508.10 L426.28,508.31 L426.55,508.52 L426.82,508.72 L427.09,508.92 L427.36,509.12 L427.63,509.31 L430.21,510.94 L432.78,512.28 L435.36,513.36 L437.93,514.24 L440.51,514.94 L443.08,515.50 L445.66,515.92 L448.24,516.24 L450.81,516.47 L453.39,516.61 L455.96,516.69 L458.54,516.70 L461.11,516.66 L463.69,516.57 L466.27,516.45 L468.84,516.28 L471.42,516.09 L473.99,515.86 L476.57,515.61 L479.15,515.34 L481.72,515.05 L484.30,514.74 L486.87,514.41 L489.45,514.07 L492.02,513.71 L494.60,513.35 L497.18,512.97 L499.75,512.58 L502.33,512.18 L504.90,511.78 L507.48,511.36 L510.05,510.94 L512.63,510.52 L515.21,510.08 L517.78,509.64 L520.36,509.20 L522.93,508.75 L525.51,508.30 L528.08,507.85 L530.66,507.39 L533.24,506.93 L535.81,506.46 L538.39,505.99 L540.96,505.52 L543.54,505.05 L546.12,504.57 L548.69,504.09 L551.27,503.61 L553.84,503.13 L556.42,502.65 L558.99,502.16 L561.57,501.67 L564.15,501.19 L566.72,500.70 L569.30,500.20 L571.87,499.71 L574.45,499.22 L577.02,498.73 L579.60,498.23" fill="none" stroke="#ff0000" stroke-width="2.7" stroke-linejoin="round" stroke-dasharray="1.9 1.95"/>
<path d="M455.60,510.90 L465.00,520.30 M455.60,520.30 L465.00,510.90" stroke="#ff0000" stroke-width="2.8" fill="none"/>
<path d="M362.50,542.30 L579.60,511.52" fill="none" stroke="#0000ff" stroke-width="2.7" stroke-linejoin="round" />
<path d="M405.78,288.45 L406.05,295.62 L406.32,302.53 L406.59,309.21 L406.86,315.65 L407.13,321.87 L407.40,327.87 L407.67,333.67 L407.94,339.28 L408.21,344.69 L408.48,349.92 L408.75,354.98 L409.01,359.87 L409.28,364.59 L409.55,369.17 L409.82,373.59 L410.09,377.87 L410.36,382.01 L410.63,386.01 L410.90,389.89 L411.17,393.65 L411.44,397.28 L411.71,400.80 L411.98,404.21 L412.25,407.52 L412.52,410.72 L412.79,413.82 L413.06,416.83 L413.33,419.74 L413.60,422.57 L413.87,425.31 L414.14,427.97 L414.41,430.55 L414.68,433.05 L414.95,435.48 L415.22,437.83 L415.49,440.12 L415.76,442.33 L416.03,444.49 L416.30,446.58 L416.57,448.61 L416.84,450.58 L417.11,452.50 L417.38,454.36 L417.65,456.17 L417.92,457.92 L418.19,459.63 L418.46,461.29 L418.73,462.90 L419.00,464.47 L419.27,465.99 L419.54,467.47 L419.81,468.92 L420.08,470.32 L420.35,471.68 L420.62,473.01 L420.89,474.30 L421.16,475.55 L421.42,476.78 L421.69,477.96 L421.96,479.12 L422.23,480.25 L422.50,481.34 L422.77,482.41 L423.04,483.45 L423.31,484.46 L423.58,485.45 L423.85,486.41 L424.12,487.35 L424.39,488.26 L424.66,489.14 L424.93,490.01 L425.20,490.85 L425.47,491.67 L425.74,492.47 L426.01,493.25 L426.28,494.01 L426.55,494.75 L426.82,495.48 L427.09,496.18 L427.36,496.87 L427.63,497.54 L430.21,503.15 L432.78,507.59 L435.36,511.11 L437.93,513.92 L440.51,516.16 L443.08,517.95 L445.66,519.38 L448.24,520.52 L450.81,521.42 L453.39,522.12 L455.96,522.66 L458.54,523.07 L461.11,523.37 L463.69,523.57 L466.27,523.70 L468.84,523.76 L471.42,523.77 L473.99,523.73 L476.57,523.65 L479.15,523.53 L481.72,523.39 L484.30,523.21 L486.87,523.02 L489.45,522.81 L492.02,522.58 L494.60,522.33 L497.18,522.08 L499.75,521.81 L502.33,521.53 L504.90,521.24 L507.48,520.95 L510.05,520.65 L512.63,520.34 L515.21,520.03 L517.78,519.71 L520.36,519.39 L522.93,519.06 L525.51,518.73 L528.08,518.40 L530.66,518.06 L533.24,517.73 L535.81,517.39 L538.39,517.04 L540.96,516.70 L543.54,516.35 L546.12,516.01 L548.69,515.66 L551.27,515.31 L553.84,514.96 L556.42,514.60 L558.99,514.25 L561.57,513.90 L564.15,513.54 L566.72,513.19 L569.30,512.83 L571.87,512.47 L574.45,512.12 L577.02,511.76 L579.60,511.40" fill="none" stroke="#0000ff" stroke-width="2.7" stroke-linejoin="round" stroke-dasharray="1.9 1.95"/>
<path d="M467.90,518.80 L477.30,528.20 M467.90,528.20 L477.30,518.80" stroke="#0000ff" stroke-width="2.8" fill="none"/>
</g>
<text x="362.50" y="558.8" font-size="12.1" text-anchor="middle" fill="#262626">0</text>
<text x="405.92" y="558.8" font-size="12.1" text-anchor="middle" fill="#262626">20</text>
<text x="449.34" y="558.8" font-size="12.1" text-anchor="middle" fill="#262626">40</text>
<text x="492.76" y="558.8" font-size="12.1" text-anchor="middle" fill="#262626">60</text>
<text x="536.18" y="558.8" font-size="12.1" text-anchor="middle" fill="#262626">80</text>
<text x="579.60" y="558.8" font-size="12.1" text-anchor="middle" fill="#262626">100</text>
<text x="356.00" y="546.70" font-size="12.1" text-anchor="end" fill="#262626">0</text>
<text x="356.00" y="506.98" font-size="12.1" text-anchor="end" fill="#262626">2</text>
<text x="356.00" y="467.26" font-size="12.1" text-anchor="end" fill="#262626">4</text>
<text x="356.00" y="427.54" font-size="12.1" text-anchor="end" fill="#262626">6</text>
<text x="356.00" y="387.82" font-size="12.1" text-anchor="end" fill="#262626">8</text>
<text x="356.00" y="348.10" font-size="12.1" text-anchor="end" fill="#262626">10</text>
<text x="471.05" y="581.6" text-anchor="middle" fill="#262626"><tspan font-style="italic">L</tspan> (nm)</text>
<text transform="translate(327.6,441.80) rotate(-90)" text-anchor="middle" fill="#262626"><tspan font-style="italic">σ</tspan> (nm)</text>
<clipPath id="cp3"><rect x="73.9" y="618.4" width="218.09999999999997" height="199.7"/></clipPath>
<line x1="117.5" y1="619.0" x2="117.5" y2="817.5" stroke="#dedede" stroke-width="1"/>
<line x1="161.5" y1="619.0" x2="161.5" y2="817.5" stroke="#dedede" stroke-width="1"/>
<line x1="204.5" y1="619.0" x2="204.5" y2="817.5" stroke="#dedede" stroke-width="1"/>
<line x1="248.5" y1="619.0" x2="248.5" y2="817.5" stroke="#dedede" stroke-width="1"/>
<line x1="74.5" y1="777.5" x2="291.4" y2="777.5" stroke="#dedede" stroke-width="1"/>
<line x1="74.5" y1="738.5" x2="291.4" y2="738.5" stroke="#dedede" stroke-width="1"/>
<line x1="74.5" y1="698.5" x2="291.4" y2="698.5" stroke="#dedede" stroke-width="1"/>
<line x1="74.5" y1="658.5" x2="291.4" y2="658.5" stroke="#dedede" stroke-width="1"/>
<rect x="74.5" y="619.0" width="216.90" height="198.50" fill="none" stroke="#262626" stroke-width="1.2"/>
<line x1="117.88" y1="817.5" x2="117.88" y2="815.3" stroke="#262626" stroke-width="1"/>
<line x1="117.88" y1="619.0" x2="117.88" y2="621.2" stroke="#262626" stroke-width="1"/>
<line x1="161.26" y1="817.5" x2="161.26" y2="815.3" stroke="#262626" stroke-width="1"/>
<line x1="161.26" y1="619.0" x2="161.26" y2="621.2" stroke="#262626" stroke-width="1"/>
<line x1="204.64" y1="817.5" x2="204.64" y2="815.3" stroke="#262626" stroke-width="1"/>
<line x1="204.64" y1="619.0" x2="204.64" y2="621.2" stroke="#262626" stroke-width="1"/>
<line x1="248.02" y1="817.5" x2="248.02" y2="815.3" stroke="#262626" stroke-width="1"/>
<line x1="248.02" y1="619.0" x2="248.02" y2="621.2" stroke="#262626" stroke-width="1"/>
<line x1="74.5" y1="777.80" x2="76.7" y2="777.80" stroke="#262626" stroke-width="1"/>
<line x1="291.4" y1="777.80" x2="289.2" y2="777.80" stroke="#262626" stroke-width="1"/>
<line x1="74.5" y1="738.10" x2="76.7" y2="738.10" stroke="#262626" stroke-width="1"/>
<line x1="291.4" y1="738.10" x2="289.2" y2="738.10" stroke="#262626" stroke-width="1"/>
<line x1="74.5" y1="698.40" x2="76.7" y2="698.40" stroke="#262626" stroke-width="1"/>
<line x1="291.4" y1="698.40" x2="289.2" y2="698.40" stroke="#262626" stroke-width="1"/>
<line x1="74.5" y1="658.70" x2="76.7" y2="658.70" stroke="#262626" stroke-width="1"/>
<line x1="291.4" y1="658.70" x2="289.2" y2="658.70" stroke="#262626" stroke-width="1"/>
<g clip-path="url(#cp3)">
<path d="M76.67,539.60 L76.67,441.07 L78.84,621.06 L81.01,678.05 L83.18,705.66 L85.34,721.85 L87.51,732.44 L89.68,739.90 L91.85,745.42 L94.02,749.66 L96.19,753.03 L98.36,755.75 L100.53,758.01 L102.70,759.90 L104.87,761.51 L107.03,762.90 L109.20,764.10 L111.37,765.16 L113.54,766.10 L115.71,766.93 L117.88,767.68 L120.05,768.35 L122.22,768.96 L124.39,769.51 L126.56,770.02 L128.72,770.48 L130.89,770.91 L133.06,771.30 L135.23,771.67 L137.40,772.00 L139.57,772.32 L141.74,772.61 L143.91,772.89 L146.08,773.14 L148.25,773.38 L150.41,773.61 L152.58,773.82 L154.75,774.03 L156.92,774.22 L159.09,774.40 L161.26,774.57 L163.43,774.73 L165.60,774.88 L167.77,775.03 L169.94,775.17 L172.10,775.30 L174.27,775.43 L176.44,775.55 L178.61,775.67 L180.78,775.78 L182.95,775.88 L185.12,775.99 L187.29,776.09 L189.46,776.18 L191.63,776.27 L193.79,776.36 L195.96,776.44 L198.13,776.52 L200.30,776.60 L202.47,776.67 L204.64,776.75 L206.81,776.82 L208.98,776.89 L211.15,776.95 L213.32,777.01 L215.48,777.08 L217.65,777.13 L219.82,777.19 L221.99,777.25 L224.16,777.30 L226.33,777.35 L228.50,777.41 L230.67,777.45 L232.84,777.50 L235.01,777.55 L237.17,777.59 L239.34,777.64 L241.51,777.68 L243.68,777.72 L245.85,777.76 L248.02,777.80 L250.19,777.84 L252.36,777.88 L254.53,777.92 L256.70,777.95 L258.87,777.99 L261.03,778.02 L263.20,778.05 L265.37,778.09 L267.54,778.12 L269.71,778.15 L271.88,778.18 L274.05,778.21 L276.22,778.24 L278.39,778.27 L280.55,778.29 L282.72,778.32 L284.89,778.35 L287.06,778.37 L289.23,778.40 L291.40,778.42" fill="none" stroke="#000" stroke-width="2.7" stroke-linejoin="round" />
<path d="M76.67,539.60 L76.67,582.06 L78.84,709.54 L81.01,745.52 L83.18,761.76 L85.34,770.80 L87.51,776.49 L89.68,780.36 L91.85,783.14 L94.02,785.23 L96.19,786.85 L98.36,788.13 L100.53,789.18 L102.70,790.04 L104.87,790.76 L107.03,791.37 L109.20,791.90 L111.37,792.36 L113.54,792.76 L115.71,793.11 L117.88,793.42 L120.05,793.70 L122.22,793.95 L124.39,794.17 L126.56,794.37 L128.72,794.56 L130.89,794.73 L133.06,794.88 L135.23,795.02 L137.40,795.15 L139.57,795.27 L141.74,795.39 L143.91,795.49 L146.08,795.59 L148.25,795.68 L150.41,795.76 L152.58,795.84 L154.75,795.91 L156.92,795.98 L159.09,796.05 L161.26,796.11 L163.43,796.17 L165.60,796.22 L167.77,796.28 L169.94,796.33 L172.10,796.37 L174.27,796.42 L176.44,796.46 L178.61,796.50 L180.78,796.54 L182.95,796.58 L185.12,796.61 L187.29,796.65 L189.46,796.68 L191.63,796.71 L193.79,796.74 L195.96,796.77 L198.13,796.79 L200.30,796.82 L202.47,796.85 L204.64,796.87 L206.81,796.89 L208.98,796.92 L211.15,796.94 L213.32,796.96 L215.48,796.98 L217.65,797.00 L219.82,797.02 L221.99,797.03 L224.16,797.05 L226.33,797.07 L228.50,797.09 L230.67,797.10 L232.84,797.12 L235.01,797.13 L237.17,797.15 L239.34,797.16 L241.51,797.17 L243.68,797.19 L245.85,797.20 L248.02,797.21 L250.19,797.22 L252.36,797.24 L254.53,797.25 L256.70,797.26 L258.87,797.27 L261.03,797.28 L263.20,797.29 L265.37,797.30 L267.54,797.31 L269.71,797.32 L271.88,797.33 L274.05,797.34 L276.22,797.35 L278.39,797.36 L280.55,797.36 L282.72,797.37 L284.89,797.38 L287.06,797.39 L289.23,797.40 L291.40,797.40" fill="none" stroke="#ff0000" stroke-width="2.7" stroke-linejoin="round" />
<path d="M76.67,539.60 L76.67,714.42 L78.84,760.41 L81.01,775.71 L83.18,783.35 L85.34,787.93 L87.51,790.99 L89.68,793.16 L91.85,794.80 L94.02,796.07 L96.19,797.08 L98.36,797.91 L100.53,798.61 L102.70,799.19 L104.87,799.69 L107.03,800.13 L109.20,800.51 L111.37,800.84 L113.54,801.14 L115.71,801.41 L117.88,801.65 L120.05,801.86 L122.22,802.06 L124.39,802.24 L126.56,802.41 L128.72,802.56 L130.89,802.70 L133.06,802.83 L135.23,802.95 L137.40,803.06 L139.57,803.17 L141.74,803.26 L143.91,803.36 L146.08,803.44 L148.25,803.52 L150.41,803.60 L152.58,803.67 L154.75,803.74 L156.92,803.81 L159.09,803.87 L161.26,803.92 L163.43,803.98 L165.60,804.03 L167.77,804.08 L169.94,804.13 L172.10,804.18 L174.27,804.22 L176.44,804.26 L178.61,804.30 L180.78,804.34 L182.95,804.38 L185.12,804.42 L187.29,804.45 L189.46,804.48 L191.63,804.51 L193.79,804.54 L195.96,804.57 L198.13,804.60 L200.30,804.63 L202.47,804.66 L204.64,804.68 L206.81,804.71 L208.98,804.73 L211.15,804.75 L213.32,804.78 L215.48,804.80 L217.65,804.82 L219.82,804.84 L221.99,804.86 L224.16,804.88 L226.33,804.90 L228.50,804.92 L230.67,804.93 L232.84,804.95 L235.01,804.97 L237.17,804.99 L239.34,805.00 L241.51,805.02 L243.68,805.03 L245.85,805.05 L248.02,805.06 L250.19,805.07 L252.36,805.09 L254.53,805.10 L256.70,805.11 L258.87,805.13 L261.03,805.14 L263.20,805.15 L265.37,805.16 L267.54,805.18 L269.71,805.19 L271.88,805.20 L274.05,805.21 L276.22,805.22 L278.39,805.23 L280.55,805.24 L282.72,805.25 L284.89,805.26 L287.06,805.27 L289.23,805.28 L291.40,805.29" fill="none" stroke="#0000ff" stroke-width="2.7" stroke-linejoin="round" />
</g>
<text x="74.50" y="834.4" font-size="12.1" text-anchor="middle" fill="#262626">0</text>
<text x="117.88" y="834.4" font-size="12.1" text-anchor="middle" fill="#262626">2</text>
<text x="161.26" y="834.4" font-size="12.1" text-anchor="middle" fill="#262626">4</text>
<text x="204.64" y="834.4" font-size="12.1" text-anchor="middle" fill="#262626">6</text>
<text x="248.02" y="834.4" font-size="12.1" text-anchor="middle" fill="#262626">8</text>
<text x="291.40" y="834.4" font-size="12.1" text-anchor="middle" fill="#262626">10</text>
<text x="68.40" y="824.20" font-size="12.1" text-anchor="end" fill="#262626">0</text>
<text x="68.40" y="784.50" font-size="12.1" text-anchor="end" fill="#262626">2</text>
<text x="68.40" y="744.80" font-size="12.1" text-anchor="end" fill="#262626">4</text>
<text x="68.40" y="705.10" font-size="12.1" text-anchor="end" fill="#262626">6</text>
<text x="68.40" y="665.40" font-size="12.1" text-anchor="end" fill="#262626">8</text>
<text x="68.40" y="625.70" font-size="12.1" text-anchor="end" fill="#262626">10</text>
<text x="182.95" y="856.2" text-anchor="middle" fill="#262626">SBR</text>
<text transform="translate(42.3,717.05) rotate(-90)" text-anchor="middle" fill="#262626"><tspan font-style="italic">σ</tspan> (nm)</text>
<line x1="173.1" y1="654.5" x2="221.8" y2="654.5" stroke="#000" stroke-width="2.6"/>
<text x="228.0" y="658.5" fill="#262626"><tspan font-style="italic">l</tspan> = 1</text>
<line x1="173.1" y1="681.2" x2="221.8" y2="681.2" stroke="#ff0000" stroke-width="2.6"/>
<text x="228.0" y="685.2" fill="#262626"><tspan font-style="italic">l</tspan> = 2</text>
<line x1="173.1" y1="707.4" x2="221.8" y2="707.4" stroke="#0000ff" stroke-width="2.6"/>
<text x="228.0" y="711.4" fill="#262626"><tspan font-style="italic">l</tspan> = 3</text>
<clipPath id="cp4"><rect x="361.9" y="618.4" width="218.3" height="199.7"/></clipPath>
<line x1="405.5" y1="619.0" x2="405.5" y2="817.5" stroke="#dedede" stroke-width="1"/>
<line x1="449.5" y1="619.0" x2="449.5" y2="817.5" stroke="#dedede" stroke-width="1"/>
<line x1="492.5" y1="619.0" x2="492.5" y2="817.5" stroke="#dedede" stroke-width="1"/>
<line x1="536.5" y1="619.0" x2="536.5" y2="817.5" stroke="#dedede" stroke-width="1"/>
<line x1="362.5" y1="777.5" x2="579.6" y2="777.5" stroke="#dedede" stroke-width="1"/>
<line x1="362.5" y1="738.5" x2="579.6" y2="738.5" stroke="#dedede" stroke-width="1"/>
<line x1="362.5" y1="698.5" x2="579.6" y2="698.5" stroke="#dedede" stroke-width="1"/>
<line x1="362.5" y1="658.5" x2="579.6" y2="658.5" stroke="#dedede" stroke-width="1"/>
<rect x="362.5" y="619.0" width="217.10" height="198.50" fill="none" stroke="#262626" stroke-width="1.2"/>
<line x1="405.92" y1="817.5" x2="405.92" y2="815.3" stroke="#262626" stroke-width="1"/>
<line x1="405.92" y1="619.0" x2="405.92" y2="621.2" stroke="#262626" stroke-width="1"/>
<line x1="449.34" y1="817.5" x2="449.34" y2="815.3" stroke="#262626" stroke-width="1"/>
<line x1="449.34" y1="619.0" x2="449.34" y2="621.2" stroke="#262626" stroke-width="1"/>
<line x1="492.76" y1="817.5" x2="492.76" y2="815.3" stroke="#262626" stroke-width="1"/>
<line x1="492.76" y1="619.0" x2="492.76" y2="621.2" stroke="#262626" stroke-width="1"/>
<line x1="536.18" y1="817.5" x2="536.18" y2="815.3" stroke="#262626" stroke-width="1"/>
<line x1="536.18" y1="619.0" x2="536.18" y2="621.2" stroke="#262626" stroke-width="1"/>
<line x1="362.5" y1="777.80" x2="364.7" y2="777.80" stroke="#262626" stroke-width="1"/>
<line x1="579.6" y1="777.80" x2="577.4" y2="777.80" stroke="#262626" stroke-width="1"/>
<line x1="362.5" y1="738.10" x2="364.7" y2="738.10" stroke="#262626" stroke-width="1"/>
<line x1="579.6" y1="738.10" x2="577.4" y2="738.10" stroke="#262626" stroke-width="1"/>
<line x1="362.5" y1="698.40" x2="364.7" y2="698.40" stroke="#262626" stroke-width="1"/>
<line x1="579.6" y1="698.40" x2="577.4" y2="698.40" stroke="#262626" stroke-width="1"/>
<line x1="362.5" y1="658.70" x2="364.7" y2="658.70" stroke="#262626" stroke-width="1"/>
<line x1="579.6" y1="658.70" x2="577.4" y2="658.70" stroke="#262626" stroke-width="1"/>
<g clip-path="url(#cp4)">
<path d="M364.67,539.60 L364.67,357.80 L366.84,574.35 L369.01,644.71 L371.18,679.34 L373.36,699.88 L375.53,713.45 L377.70,723.07 L379.87,730.24 L382.04,735.79 L384.21,740.20 L386.38,743.80 L388.55,746.78 L390.72,749.30 L392.89,751.45 L395.06,753.30 L397.24,754.92 L399.41,756.35 L401.58,757.61 L403.75,758.74 L405.92,759.75 L408.09,760.67 L410.26,761.50 L412.43,762.25 L414.60,762.94 L416.77,763.58 L418.95,764.16 L421.12,764.70 L423.29,765.21 L425.46,765.67 L427.63,766.11 L429.80,766.51 L431.97,766.89 L434.14,767.25 L436.31,767.58 L438.49,767.90 L440.66,768.19 L442.83,768.48 L445.00,768.74 L447.17,768.99 L449.34,769.23 L451.51,769.46 L453.68,769.68 L455.85,769.88 L458.02,770.08 L460.19,770.26 L462.37,770.44 L464.54,770.62 L466.71,770.78 L468.88,770.94 L471.05,771.09 L473.22,771.23 L475.39,771.37 L477.56,771.50 L479.73,771.63 L481.90,771.76 L484.08,771.88 L486.25,771.99 L488.42,772.10 L490.59,772.21 L492.76,772.31 L494.93,772.41 L497.10,772.51 L499.27,772.60 L501.44,772.69 L503.62,772.78 L505.79,772.87 L507.96,772.95 L510.13,773.03 L512.30,773.11 L514.47,773.18 L516.64,773.25 L518.81,773.32 L520.98,773.39 L523.15,773.46 L525.33,773.53 L527.50,773.59 L529.67,773.65 L531.84,773.71 L534.01,773.77 L536.18,773.83 L538.35,773.88 L540.52,773.94 L542.69,773.99 L544.86,774.04 L547.03,774.09 L549.21,774.14 L551.38,774.19 L553.55,774.24 L555.72,774.28 L557.89,774.33 L560.06,774.37 L562.23,774.42 L564.40,774.46 L566.57,774.50 L568.75,774.54 L570.92,774.58 L573.09,774.62 L575.26,774.65 L577.43,774.69 L579.60,774.73" fill="none" stroke="#000" stroke-width="2.7" stroke-linejoin="round" />
<path d="M364.67,539.60 L364.67,605.50 L366.84,702.69 L369.01,734.41 L371.18,750.07 L373.36,759.37 L375.53,765.53 L377.70,769.90 L379.87,773.16 L382.04,775.68 L384.21,777.69 L386.38,779.33 L388.55,780.69 L390.72,781.84 L392.89,782.82 L395.06,783.67 L397.24,784.41 L399.41,785.06 L401.58,785.64 L403.75,786.16 L405.92,786.62 L408.09,787.04 L410.26,787.42 L412.43,787.77 L414.60,788.08 L416.77,788.37 L418.95,788.64 L421.12,788.89 L423.29,789.12 L425.46,789.33 L427.63,789.53 L429.80,789.72 L431.97,789.90 L434.14,790.06 L436.31,790.21 L438.49,790.36 L440.66,790.49 L442.83,790.62 L445.00,790.75 L447.17,790.86 L449.34,790.97 L451.51,791.08 L453.68,791.18 L455.85,791.27 L458.02,791.36 L460.19,791.45 L462.37,791.53 L464.54,791.61 L466.71,791.69 L468.88,791.76 L471.05,791.83 L473.22,791.89 L475.39,791.96 L477.56,792.02 L479.73,792.08 L481.90,792.14 L484.08,792.19 L486.25,792.24 L488.42,792.30 L490.59,792.35 L492.76,792.39 L494.93,792.44 L497.10,792.48 L499.27,792.53 L501.44,792.57 L503.62,792.61 L505.79,792.65 L507.96,792.69 L510.13,792.72 L512.30,792.76 L514.47,792.79 L516.64,792.83 L518.81,792.86 L520.98,792.89 L523.15,792.92 L525.33,792.95 L527.50,792.98 L529.67,793.01 L531.84,793.04 L534.01,793.07 L536.18,793.09 L538.35,793.12 L540.52,793.15 L542.69,793.17 L544.86,793.19 L547.03,793.22 L549.21,793.24 L551.38,793.26 L553.55,793.28 L555.72,793.31 L557.89,793.33 L560.06,793.35 L562.23,793.37 L564.40,793.39 L566.57,793.40 L568.75,793.42 L570.92,793.44 L573.09,793.46 L575.26,793.48 L577.43,793.49 L579.60,793.51" fill="none" stroke="#ff0000" stroke-width="2.7" stroke-linejoin="round" />
<path d="M364.67,539.60 L364.67,707.25 L366.84,754.14 L369.01,769.88 L371.18,777.79 L373.36,782.56 L375.53,785.74 L377.70,788.02 L379.87,789.73 L382.04,791.07 L384.21,792.14 L386.38,793.01 L388.55,793.74 L390.72,794.36 L392.89,794.89 L395.06,795.35 L397.24,795.76 L399.41,796.11 L401.58,796.43 L403.75,796.72 L405.92,796.97 L408.09,797.20 L410.26,797.41 L412.43,797.61 L414.60,797.78 L416.77,797.94 L418.95,798.09 L421.12,798.23 L423.29,798.36 L425.46,798.48 L427.63,798.60 L429.80,798.70 L431.97,798.80 L434.14,798.89 L436.31,798.98 L438.49,799.06 L440.66,799.14 L442.83,799.21 L445.00,799.28 L447.17,799.35 L449.34,799.41 L451.51,799.47 L453.68,799.53 L455.85,799.58 L458.02,799.63 L460.19,799.68 L462.37,799.73 L464.54,799.78 L466.71,799.82 L468.88,799.86 L471.05,799.90 L473.22,799.94 L475.39,799.98 L477.56,800.01 L479.73,800.05 L481.90,800.08 L484.08,800.11 L486.25,800.14 L488.42,800.17 L490.59,800.20 L492.76,800.23 L494.93,800.26 L497.10,800.28 L499.27,800.31 L501.44,800.33 L503.62,800.36 L505.79,800.38 L507.96,800.40 L510.13,800.42 L512.30,800.44 L514.47,800.47 L516.64,800.49 L518.81,800.50 L520.98,800.52 L523.15,800.54 L525.33,800.56 L527.50,800.58 L529.67,800.59 L531.84,800.61 L534.01,800.63 L536.18,800.64 L538.35,800.66 L540.52,800.67 L542.69,800.69 L544.86,800.70 L547.03,800.71 L549.21,800.73 L551.38,800.74 L553.55,800.75 L555.72,800.77 L557.89,800.78 L560.06,800.79 L562.23,800.80 L564.40,800.81 L566.57,800.83 L568.75,800.84 L570.92,800.85 L573.09,800.86 L575.26,800.87 L577.43,800.88 L579.60,800.89" fill="none" stroke="#0000ff" stroke-width="2.7" stroke-linejoin="round" />
</g>
<text x="362.50" y="834.4" font-size="12.1" text-anchor="middle" fill="#262626">0</text>
<text x="405.92" y="834.4" font-size="12.1" text-anchor="middle" fill="#262626">2</text>
<text x="449.34" y="834.4" font-size="12.1" text-anchor="middle" fill="#262626">4</text>
<text x="492.76" y="834.4" font-size="12.1" text-anchor="middle" fill="#262626">6</text>
<text x="536.18" y="834.4" font-size="12.1" text-anchor="middle" fill="#262626">8</text>
<text x="579.60" y="834.4" font-size="12.1" text-anchor="middle" fill="#262626">10</text>
<text x="356.90" y="824.10" font-size="12.1" text-anchor="end" fill="#262626">0</text>
<text x="356.90" y="784.40" font-size="12.1" text-anchor="end" fill="#262626">2</text>
<text x="356.90" y="744.70" font-size="12.1" text-anchor="end" fill="#262626">4</text>
<text x="356.90" y="705.00" font-size="12.1" text-anchor="end" fill="#262626">6</text>
<text x="356.90" y="665.30" font-size="12.1" text-anchor="end" fill="#262626">8</text>
<text x="356.90" y="625.60" font-size="12.1" text-anchor="end" fill="#262626">10</text>
<text x="471.05" y="856.2" text-anchor="middle" fill="#262626">SBR</text>
<text transform="translate(330.2,717.05) rotate(-90)" text-anchor="middle" fill="#262626"><tspan font-style="italic">σ</tspan> (nm)</text>
</svg>
</body></html>
